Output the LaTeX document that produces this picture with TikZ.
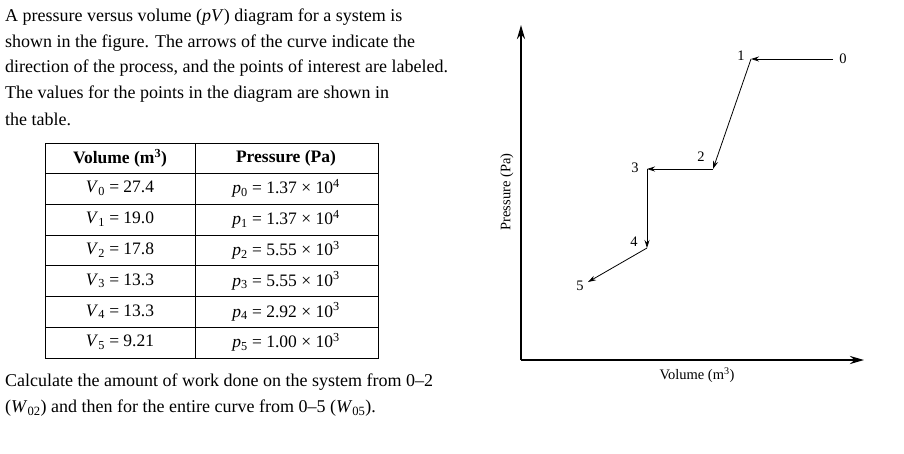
\documentclass[tikz,border=0pt]{standalone}
\usepackage{fontspec}
\setmainfont{Liberation Serif}
\usetikzlibrary{arrows.meta}
\newcommand{\myvar}[2]{\textit{#1}\textsubscript{#2}}
\begin{document}
\begin{tikzpicture}[x=1pt,y=-1pt,
 body/.style={anchor=west,inner sep=0pt,font=\fontsize{18}{20}\selectfont},
 cell/.style={inner sep=0pt,font=\fontsize{17.5}{20}\selectfont},
 lbl/.style={inner sep=0pt,font=\fontsize{14.5}{16}\selectfont},
 axis/.style={line width=2.2pt,-{Stealth[length=14pt,width=8pt]}},
 seg/.style={line width=0.8pt,-{Stealth[length=8pt,width=5pt]}}]
\useasboundingbox (0,0) rectangle (904,453);
\node[body] (t1) at (5,17) {A pressure versus volume (\textit{pV}) diagram for a system is};
\node[body] (t2) at (5,43) {shown in the figure. The arrows of the curve indicate the};
\node[body] (t3) at (5,68) {direction of the process, and the points of interest are labeled.};
\node[body] (t4) at (5,94) {The values for the points in the diagram are shown in};
\node[body] (t5) at (5,119) {the table.};
\node[body] (b1) at (5,382) {Calculate the amount of work done on the system from 0–2};
\node[body] (b2) at (5,408) {(\myvar{W}{02}) and then for the entire curve from 0–5 (\myvar{W}{05}).};
% table
\draw[line width=0.7pt] (45,143) rectangle (378,358);
\draw[line width=0.7pt] (195,143) -- (195,358);
\foreach \y in {173,204,235,265,296,327} \draw[line width=0.5pt] (45,\y) -- (378,\y);
\node[cell,font=\bfseries\fontsize{17.5}{20}\selectfont] (h1) at (120,158) {Volume (m\textsuperscript{3})};
\node[cell,font=\bfseries\fontsize{17.5}{20}\selectfont] (h2) at (286,158) {Pressure (Pa)};
\foreach \i/\v/\p/\e [count=\k from 0] in {0/27.4/1.37/4,1/19.0/1.37/4,2/17.8/5.55/3,3/13.3/5.55/3,4/13.3/2.92/3,5/9.21/1.00/3}{
 \node[cell] (v\i) at (120,188.5+30.8*\k) {\myvar{V}{\i} = \v};
 \node[cell] (p\i) at (286,188.5+30.8*\k) {\myvar{p}{\i} = \p{} × 10\textsuperscript{\e}};
}
% graph
\coordinate (O) at (521,360);
\coordinate (Y) at (521,25);
\coordinate (X) at (864,360);
\draw[axis] (O) -- (Y);
\draw[axis] (O) -- (X);
\node[lbl,rotate=90] (py) at (507,192) {Pressure (Pa)};
\node[lbl] (vx) at (697,375) {Volume (m\textsuperscript{3})};
\coordinate (P0) at (833,59);
\coordinate (P1) at (751,59);
\coordinate (P2) at (713,169);
\coordinate (P3) at (647,169);
\coordinate (P4) at (647,248);
\coordinate (P5) at (588,282);
\draw[seg] (P0) -- (P1);
\draw[seg] (P1) -- (P2);
\draw[seg] (P2) -- (P3);
\draw[seg] (P3) -- (P4);
\draw[seg] (P4) -- (P5);
\node[lbl] (l0) at (843,59) {0};
\node[lbl] (l1) at (741,56) {1};
\node[lbl] (l2) at (701,157) {2};
\node[lbl] (l3) at (635,168) {3};
\node[lbl] (l4) at (634,242) {4};
\node[lbl] (l5) at (580,286) {5};
\end{tikzpicture}
\end{document}
